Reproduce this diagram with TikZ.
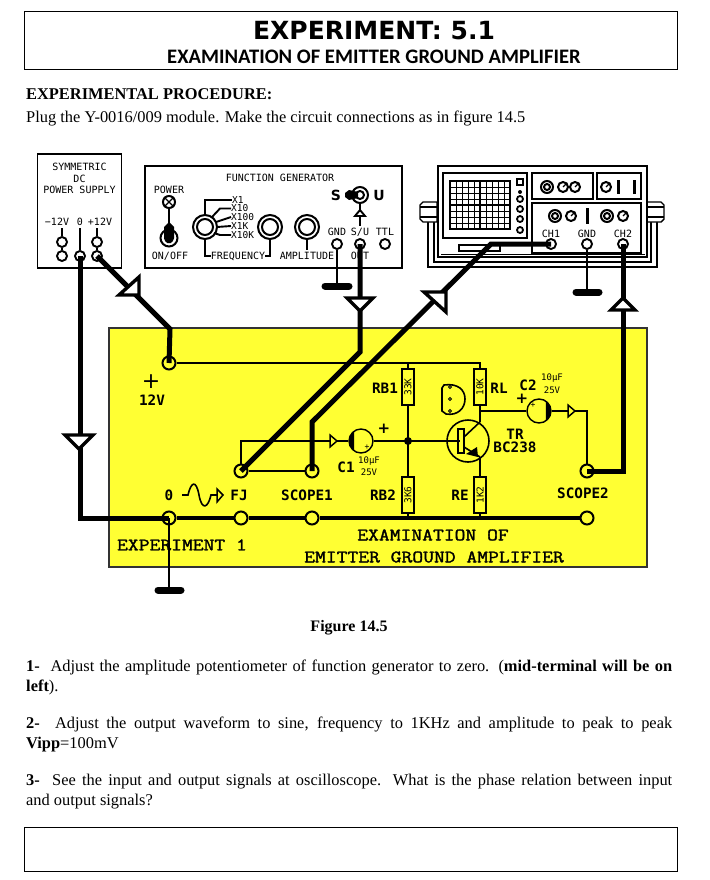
\documentclass[tikz,border=0pt]{standalone}
\usepackage{fontspec}
\setmainfont{Liberation Serif}
\newfontfamily\diagf{DejaVu Sans Mono}
\newfontfamily\titlef{DejaVu Sans}
\newfontfamily\subf{Carlito}
\newfontfamily\slabf{Latin Modern Mono}[FakeBold=1.6]
\newcommand{\fsz}[1]{\fontsize{#1}{#1}\selectfont}
\newcommand{\slabtext}[1]{\scalebox{1.2}[1]{#1}}
\definecolor{panelyellow}{HTML}{FFFF33}
\tikzset{
  box/.style={draw=black,line width=1pt},
  panel/.style={draw=black,line width=1.4pt},
  thin wire/.style={draw=black,line width=1.6pt},
  wire/.style={draw=black,line width=1.9pt},
  bus/.style={draw=black,line width=3.6pt},
  thick wire/.style={draw=black,line width=5pt,line join=miter},
  gnd bar/.style={draw=black,line width=7pt,line cap=round},
  probe/.style={draw=black,fill=white,line width=3.4pt,line join=miter},
  mini tip/.style={draw=black,fill=panelyellow,line width=1.5pt},
  term/.style={circle,draw=black,line width=1.9pt,minimum size=10pt,inner sep=0pt,fill=white},
  yterm/.style={circle,draw=black,line width=2pt,minimum size=13pt,inner sep=0pt,fill=panelyellow},
  res/.style={rectangle,draw=black,line width=1.4pt,fill=panelyellow,minimum width=12pt,minimum height=36pt,inner sep=0pt,font=\diagf\fsz{9.5}},
  lab/.style={inner sep=0pt,font=\diagf\fsz{10}},
  blab/.style={inner sep=0pt,font=\diagf\bfseries\fsz{14.3}},
  slab/.style={inner sep=0pt,font=\slabf\fsz{17.5}},
  para/.style={inner sep=0pt,anchor=base west,font=\fsz{16.4}},
  knob/.style={circle,draw=black,line width=2pt,inner sep=0pt,fill=white},
}
\begin{document}
\begin{tikzpicture}[x=1pt,y=-1pt]
\useasboundingbox (0,0) rectangle (709,880);
\fill[white] (0,0) rectangle (709,880);
% page frames and text
\draw[box] (24,12) rectangle (677,70);
\node[inner sep=0pt,font=\titlef\bfseries\fsz{25}] (title) at (374,31) {EXPERIMENT: 5.1};
\node[inner sep=0pt,font=\subf\bfseries\fsz{20.6}] (subtitle) at (374,57) {EXAMINATION OF EMITTER GROUND AMPLIFIER};
\node[para,font=\bfseries\fsz{16.4}] (proc) at (26,100) {EXPERIMENTAL PROCEDURE:};
\node[para] (plug) at (26,123) {Plug the Y-0016/009 module. Make the circuit connections as in figure 14.5};
\node[inner sep=0pt,font=\bfseries\fsz{16}] (fig) at (349,628) {Figure 14.5};
\node[para] (s1a) at (26,671) {\makebox[646pt][s]{\textbf{1-}\ \ Adjust the amplitude potentiometer of function generator to zero. (\textbf{mid-terminal will be on}}};
\node[para] (s1b) at (26,691) {\textbf{left}).};
\node[para] (s2a) at (26,728) {\makebox[646pt][s]{\textbf{2-}\ \ Adjust the output waveform to sine, frequency to 1KHz and amplitude to peak to peak}};
\node[para] (s2b) at (26,748) {\textbf{Vipp}=100mV};
\node[para] (s3a) at (26,785) {\makebox[646pt][s]{\textbf{3-}\ \ See the input and output signals at oscilloscope. What is the phase relation between input}};
\node[para] (s3b) at (26,805) {and output signals?};
\draw[box] (24,827) rectangle (677,871);

% power supply
\draw[panel] (37.5,154) rectangle (121.5,268);
\node[lab] (ps1) at (79.5,167) {SYMMETRIC};
\node[lab] (ps2) at (79.5,179) {DC};
\node[lab] (ps3) at (79.5,190) {POWER SUPPLY};
\node[lab] (vm) at (57,222) {\textminus12V};
\node[lab] (vz) at (80,222) {0};
\node[lab] (vp) at (100,222) {+12V};
\node[term] (m1) at (62,242) {};
\node[term] (m2) at (62,256) {};
\node[term] (z2) at (80,256) {};
\node[term] (p1) at (97,242) {};
\node[term] (p2) at (97,256) {};
\draw[wire] (62,228) -- (m1) (m1) -- (m2) (80,228) -- (z2) (97,228) -- (p1) (p1) -- (p2);

% function generator
\draw[panel] (145,166) rectangle (402,268);
\node[lab] (fgt) at (280,178) {FUNCTION GENERATOR};
\node[lab] (pw) at (169,190) {POWER};
\node[lab] (onoff) at (170,256) {ON/OFF};
\node[knob,minimum size=12pt] (lamp) at (169,202) {};
\draw[line width=1.3pt] (lamp.45) -- (lamp.225) (lamp.135) -- (lamp.315);
\node[knob,minimum size=17pt] (sw1) at (169,238) {};
\node[knob,minimum size=8pt] (sw1i) at (169,238) {};
\draw[wire] (lamp) -- (169,224);
\fill (164,238) -- (164,227) -- (169,222) -- (174,227) -- (174,238) -- (171,243) -- (167,243) -- cycle;
\node[knob,minimum size=24pt] (kf) at (205,227) {};
\node[knob,minimum size=16pt] (kfi) at (205,227) {};
\node[knob,minimum size=24pt] (kg) at (270,227) {};
\node[knob,minimum size=16pt] (kgi) at (270,227) {};
\node[knob,minimum size=24pt] (ka) at (307,227) {};
\node[knob,minimum size=16pt] (kai) at (307,227) {};
\begin{scope}[font=\diagf\fsz{9.5}]
\node[anchor=west,inner sep=0pt] (x1) at (232,200) {X1};
\node[anchor=west,inner sep=0pt] (x2) at (231,208.5) {X10};
\node[anchor=west,inner sep=0pt] (x3) at (231,217) {X100};
\node[anchor=west,inner sep=0pt] (x4) at (231,226) {X1K};
\node[anchor=west,inner sep=0pt] (x5) at (231,235) {X10K};
\end{scope}
\draw[wire] (205,215) -- (205,200) -- (x1.west);
\draw[wire] (212,217) -- (220,208.5) -- (x2.west);
\draw[wire] (216,222) -- (x3.west);
\draw[wire] (217,227) -- (x4.west);
\draw[wire] (214,233) -- (220,235) -- (x5.west);
\node[lab] (freq) at (238,256) {FREQUENCY};
\node[lab] (ampl) at (307,256) {AMPLITUDE};
\draw[wire] (205,239) -- (205,256) -- (freq.west);
\draw[wire] (freq.east) -- (270,256) -- (270,239);
\draw[wire] (307,239) -- (307,250);
\node[lab] (gndl) at (337,232) {GND};
\node[lab] (sul) at (360,232) {S/U};
\node[lab] (ttll) at (385,232) {TTL};
\node[lab] (outl) at (360,256) {OUT};
\node[term] (fgnd) at (337,244) {};
\node[term] (fout) at (360,244) {};
\node[term] (fttl) at (385,244) {};
\node[knob,minimum size=16pt] (sw2) at (360,195) {};
\node[knob,minimum size=8pt] (sw2i) at (360,195) {};
\fill (358,192) -- (349,190) -- (345,193) -- (345,197) -- (349,200) -- (358,198) -- cycle;
\node[inner sep=0pt,font=\titlef\bfseries\fsz{14}] (sl) at (336,195) {S};
\node[inner sep=0pt,font=\titlef\bfseries\fsz{14}] (ul) at (379,195) {U};
\draw[wire] (sw2) -- (360,210);
\draw[wire,fill=white] (360,210) -- (355,216) -- (365,216) -- cycle;
\draw[wire] (360,216) -- (360,226);
\coordinate (fbar) at (337,286);
\draw[wire] (fgnd) -- (fbar);
\draw[gnd bar] (325,286) -- (349,286);

% oscilloscope
\draw[panel] (428,209) -- (428,267) -- (657,267) -- (657,209);
\draw[wire] (434,222) -- (434,262) -- (651,262) -- (651,222);
\draw[panel,fill=white] (420,205) -- (423,202) -- (437,202) -- (437,222) -- (423,222) -- (420,219) -- cycle;
\draw[wire] (420,207) -- (437,207) (420,217) -- (437,217);
\draw[panel,fill=white] (664,205) -- (661,202) -- (647,202) -- (647,222) -- (661,222) -- (664,219) -- cycle;
\draw[wire] (664,207) -- (647,207) (664,217) -- (647,217);
\draw[panel,fill=white,line width=1.6pt] (438,166) rectangle (647,257);
\draw[wire] (441,254.5) -- (645,254.5);
\draw[panel] (443,173) rectangle (527,238);
\foreach \gx in {456,462,468,474,480,486,492,498,504} \draw[line width=1pt] (\gx,181) -- (\gx,229);
\foreach \gy in {187,193,199,205,211,217,223} \draw[line width=1pt] (450,\gy) -- (510,\gy);
\draw[line width=1.9pt] (450,181) rectangle (510,229) (480,181) -- (480,229) (450,205) -- (510,205);
\draw[line width=1.5pt] (517,179) rectangle (523,185);
\fill (520,192) circle (2);
\foreach \cy in {199,209,219,230} \draw[line width=1.8pt] (520,\cy) circle (3);
\draw[wire] (459,245) rectangle (500,251);
\draw[panel] (532,173) rectangle (593,199);
\draw[panel] (597,173) rectangle (641,199);
\draw[panel] (532,203) rectangle (641,253);
\node[knob,minimum size=12pt] (o1) at (547,187) {};
\node[knob,minimum size=6pt] (o1i) at (547,187) {};
\node[knob,minimum size=10pt] (o2) at (563,187) {};
\node[knob,minimum size=10pt] (o3) at (575,187) {};
\node[knob,minimum size=10pt] (o4) at (606,187) {};
\node[knob,minimum size=12pt] (o5) at (555,216) {};
\node[knob,minimum size=6pt] (o5i) at (555,216) {};
\node[knob,minimum size=10pt] (o6) at (571,216) {};
\node[knob,minimum size=12pt] (o7) at (607,216) {};
\node[knob,minimum size=6pt] (o7i) at (607,216) {};
\node[knob,minimum size=10pt] (o8) at (623,216) {};
\foreach \k in {o2,o3,o4,o6,o8} \draw[line width=1.3pt] (\k.center) -- (\k.45);
\draw[line width=3pt] (618,180) -- (618,194) (634,180) -- (634,194) (587,208) -- (587,224);
\node[lab] (ch1l) at (551,234) {CH1};
\node[lab] (gnl) at (587,234) {GND};
\node[lab] (ch2l) at (623,234) {CH2};
\node[term] (ch1) at (551,244) {};
\node[term] (ognd) at (587,244) {};
\node[term] (ch2) at (623,244) {};
\coordinate (obar) at (587,292);
\draw[wire] (ognd) -- (obar);
\draw[gnd bar] (576,292) -- (599,292);

% yellow board
\draw[draw=black!80,line width=1.2pt,fill=panelyellow] (109,328) rectangle (647,567);
\node[yterm] (v12) at (169,363) {};
\node[yterm] (fj) at (241,471) {};
\node[yterm] (sc1) at (312,471) {};
\node[yterm] (sc2) at (587,471) {};
\node[yterm] (r0) at (169,518) {};
\node[yterm] (rfj) at (241,518) {};
\node[yterm] (rsc1) at (312,518) {};
\node[yterm] (rsc2) at (587,518) {};
\node[res] (rb1) at (408,387) {\rotatebox{90}{33K}};
\node[res] (rb2) at (408,495) {\rotatebox{90}{3K6}};
\node[res] (rl) at (480,387) {\rotatebox{90}{10K}};
\node[res] (re) at (480,495) {\rotatebox{90}{1K2}};
\coordinate (topr) at (480,363);
\coordinate (nb) at (408,441);
\coordinate (nc) at (480,411);
\coordinate (c2out) at (587,411);
\coordinate (c1in) at (241,441);
\draw[thin wire] (v12) -- (408,363) -- (topr) -- (rl);
\draw[thin wire] (408,363) -- (rb1);
\draw[wire] (rb1) -- (nb) -- (rb2);
\draw[wire] (rb2) -- (408,518);
\draw[wire] (rl) -- (nc) -- (480,422);
\draw[wire] (480,457) -- (re);
\draw[wire] (re) -- (480,518);
\fill (nb) circle (4);
% transistor
\node[circle,draw=black,line width=1.6pt,minimum size=42pt,inner sep=0pt] (tr) at (468,441) {};
\draw[thin wire] (nb) -- (460,441);
\draw[line width=1.4pt] (458,429) rectangle (464,453);
\draw[thin wire] (464,437) -- (480,422);
\draw[thin wire] (464,447) -- (480,457);
\fill (477,447) -- (478,457) -- (466,454) -- cycle;
% pinout
\draw[thin wire] (444,385) -- (442,388) -- (442,411) -- (446,414) .. controls (458,416) and (465,408) .. (465,399) .. controls (465,390) and (458,383) .. (444,385) -- cycle;
\foreach \py in {387,399,411} \draw[line width=1pt] (450,\py) circle (1.5);
% capacitors
\node[circle,draw=black,line width=1.4pt,minimum size=24pt,inner sep=0pt] (c1) at (361,441) {};
\fill (c1.center) ++(125:12) arc (125:235:12) -- cycle;
\node[circle,draw=black,line width=1.4pt,minimum size=24pt,inner sep=0pt] (c2) at (539,411) {};
\fill (c2.center) ++(55:12) arc (55:-55:12) -- cycle;
\node[inner sep=0pt,font=\diagf\fsz{8}] (c1p) at (367,447) {+};
\node[inner sep=0pt,font=\diagf\fsz{8}] (c2p) at (533,405) {+};
\draw[thin wire] (fj) -- (c1in) -- (330,441);
\draw[mini tip] (330,435) -- (337,441) -- (330,447) -- cycle;
\draw[thin wire] (337,441) -- (c1);
\draw[thin wire] (c1) -- (nb);
\draw[thin wire] (fj) -- (sc1);
\draw[thin wire] (nc) -- (c2);
\draw[thin wire] (c2) -- (568,411);
\draw[mini tip] (568,405) -- (575,411) -- (568,417) -- cycle;
\draw[thin wire] (575,411) -- (c2out) -- (sc2);
% bus row
\draw[thick wire] (z2.center) -- (80,518) -- (r0.center);
\draw[bus] (r0) -- (rfj);
\draw[bus] (rfj) -- (rsc1);
\draw[bus] (rsc1) -- (rsc2);
\coordinate (bbar) at (169,590);
\draw[wire] (r0.center) -- (bbar);
\draw[gnd bar] (158,590) -- (181,590);
% probes
\draw[thick wire] (p2.center) -- (170,329) -- (v12.center);
\draw[thick wire] (fout.center) -- (360,352) -- (fj.center);
\draw[thick wire] (ch1.center) -- (491,244) -- (312,422) -- (sc1.center);
\draw[thick wire] (ch2.center) -- (623,471) -- (sc2.center);
\draw[probe] (139,277) -- (139,295) -- (119,295) -- cycle;
\draw[probe] (347,298) -- (373,298) -- (360,311) -- cycle;
\draw[probe] (424,292) -- (446,292) -- (446,312) -- cycle;
\draw[probe] (611,310) -- (635,310) -- (623,298) -- cycle;
\draw[probe] (65,435) -- (93,435) -- (79,449) -- cycle;

% board labels
\node[inner sep=0pt,font=\titlef\fsz{22}] (pl12) at (151,382) {+};
\node[blab] (v12l) at (152,400) {12V};
\node[blab] (rb1l) at (385,388) {RB1};
\node[blab] (rb2l) at (383,495) {RB2};
\node[blab] (rel) at (460,495) {RE};
\node[blab] (rll) at (499,388) {RL};
\node[blab] (c2l) at (528,385) {C2};
\node[blab] (trl) at (515,434) {TR};
\node[blab] (bcl) at (515,447) {BC238};
\node[blab] (c1l) at (346,467) {C1};
\node[blab] (zerol) at (169,495) {0};
\node[blab] (fjl) at (239,495) {FJ};
\node[blab] (sc1l) at (307,495) {SCOPE1};
\node[blab] (sc2l) at (583,493) {SCOPE2};
\node[inner sep=0pt,font=\titlef\bfseries\fsz{15}] (pc1) at (384,429) {+};
\node[inner sep=0pt,font=\titlef\bfseries\fsz{15}] (pc2) at (522,399) {+};
\node[lab,font=\diagf\fsz{9}] (c1v) at (369,461) {10\textmu F};
\node[lab,font=\diagf\fsz{9}] (c1w) at (369,472) {25V};
\node[lab,font=\diagf\fsz{9}] (c2v) at (552,378) {10\textmu F};
\node[lab,font=\diagf\fsz{9}] (c2w) at (552,390) {25V};
% sine source
\draw[thin wire] (182,495) -- (188,495) .. controls (191,482) and (196,479) .. (199,495) .. controls (202,511) and (208,508) .. (211,495) -- (217,495);
\draw[mini tip] (217,489) -- (223,495) -- (217,502) -- cycle;
\node[slab] (exp1) at (182,545) {\slabtext{EXPERIMENT 1}};
\node[slab] (ex2) at (433,535) {\slabtext{EXAMINATION OF}};
\node[slab] (ex3) at (434,557) {\slabtext{EMITTER GROUND AMPLIFIER}};
\end{tikzpicture}
\end{document}
